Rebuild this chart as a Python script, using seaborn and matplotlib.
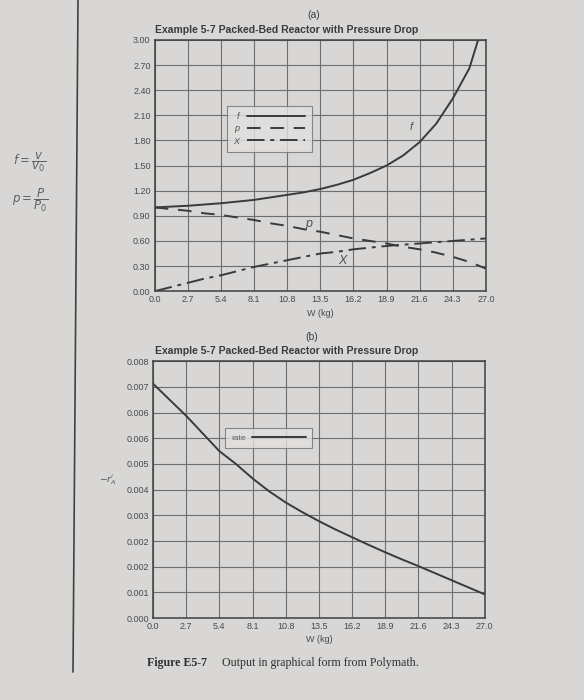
import numpy as np
import pandas as pd
import matplotlib
matplotlib.use("Agg")
import matplotlib.pyplot as plt
from matplotlib.lines import Line2D
import seaborn as sns

# data
W = [0.0, 1.35, 2.7, 4.05, 5.4, 6.75, 8.1, 9.45, 10.8, 12.15, 13.5,
     14.85, 16.2, 17.55, 18.9, 20.25, 21.6, 22.95, 24.3, 25.65, 27.0]
f_vals = [1.00, 1.01, 1.02, 1.035, 1.05, 1.07, 1.09, 1.12, 1.15, 1.18, 1.22,
          1.27, 1.33, 1.41, 1.50, 1.62, 1.78, 2.00, 2.30, 2.66, 3.30]
p_vals = [1.00, 0.98, 0.96, 0.93, 0.91, 0.88, 0.85, 0.81, 0.78, 0.74, 0.71,
          0.67, 0.63, 0.60, 0.57, 0.53, 0.50, 0.46, 0.41, 0.35, 0.27]
X_vals = [0.00, 0.05, 0.10, 0.15, 0.19, 0.24, 0.29, 0.33, 0.37, 0.41, 0.45,
          0.47, 0.50, 0.52, 0.54, 0.555, 0.57, 0.585, 0.60, 0.615, 0.63]
rate_vals = [0.0073, 0.0068, 0.0063, 0.00575, 0.0052, 0.0048, 0.00435, 0.00395,
             0.0036, 0.0033, 0.00302, 0.00276, 0.00252, 0.00228, 0.00205,
             0.00183, 0.00162, 0.0014, 0.00118, 0.00096, 0.00074]

x_ticks = [0.0, 2.7, 5.4, 8.1, 10.8, 13.5, 16.2, 18.9, 21.6, 24.3, 27.0]
ya_ticks = [0.0, 0.3, 0.6, 0.9, 1.2, 1.5, 1.8, 2.1, 2.4, 2.7, 3.0]
yb_ticks = [0.0, 0.0008, 0.0016, 0.0024, 0.0032, 0.0040, 0.0048, 0.0056, 0.0064, 0.0072, 0.0080]

title = "Example 5-7 Packed-Bed Reactor with Pressure Drop"

df = pd.DataFrame({"W": W, "f": f_vals, "p": p_vals, "X": X_vals, "rate": rate_vals})

sns.set_theme(style="white")
plt.rcParams["font.family"] = ["Liberation Sans", "DejaVu Sans"]

paper = "#d8d7d5"
ink = "#3a3a3a"
gridc = "#6e6e6e"
tickc = "#4a4a4a"

fig = plt.figure(figsize=(5.84, 7.0), dpi=100, facecolor=paper)
ax1 = fig.add_axes([0.265, 0.584, 0.567, 0.359])
ax2 = fig.add_axes([0.262, 0.117, 0.568, 0.367])

for ax in (ax1, ax2):
    ax.set_facecolor(paper)
    for s in ax.spines.values():
        s.set_color("#404040")
        s.set_linewidth(1.1)
    ax.grid(True, color=gridc, linewidth=0.8)
    ax.tick_params(length=0, labelsize=6.5, labelcolor=tickc)
    ax.tick_params(axis="x", pad=3)
    ax.tick_params(axis="y", pad=3)
    ax.set_xlim(0, 27)
    ax.set_xticks(x_ticks)
    ax.set_xticklabels([f"{t:.1f}" for t in x_ticks])

# (a)
sns.lineplot(data=df, x="W", y="f", ax=ax1, color=ink, lw=1.4, label="f")
sns.lineplot(data=df, x="W", y="p", ax=ax1, color=ink, lw=1.4, label="p",
             linestyle=(0, (7, 5)))
sns.lineplot(data=df, x="W", y="X", ax=ax1, color=ink, lw=1.4, label="X",
             linestyle=(0, (9, 3, 2, 3)))
ax1.set_ylim(0, 3.0)
ax1.set_yticks(ya_ticks)
ax1.set_yticklabels([f"{t:.2f}" for t in ya_ticks])
ax1.set_xlabel("W (kg)", fontsize=6.5, color=tickc, labelpad=3)
ax1.set_ylabel("")
leg1 = ax1.legend(loc="upper left", bbox_to_anchor=(0.205, 0.755), markerfirst=False,
                  handlelength=6.5, prop={"style": "italic", "size": 6.5},
                  frameon=True, fancybox=False, facecolor="#e2e1df", edgecolor="#707070",
                  borderpad=0.7, labelspacing=0.35, handletextpad=0.8)
leg1.get_frame().set_linewidth(0.8)
for t in leg1.get_texts():
    t.set_color("#505050")
ax1.text(20.8, 1.92, "f", fontsize=8, style="italic", color="#505050")
ax1.text(12.3, 0.77, "p", fontsize=9, style="italic", color="#505050")
ax1.text(15.0, 0.33, "X", fontsize=9, style="italic", color="#505050")

# (b)
sns.lineplot(data=df, x="W", y="rate", ax=ax2, color=ink, lw=1.4, label="rate")
ax2.set_ylim(0, 0.008)
ax2.set_yticks(yb_ticks)
ax2.set_yticklabels([f"{t:.3f}" for t in yb_ticks])
ax2.set_xlabel("W (kg)", fontsize=6.5, color=tickc, labelpad=3)
ax2.set_ylabel("")
leg2 = ax2.legend(loc="upper left", bbox_to_anchor=(0.205, 0.755), markerfirst=False,
                  handlelength=6.5, fontsize=6, frameon=True, fancybox=False,
                  facecolor="#e2e1df", edgecolor="#707070", borderpad=0.7,
                  handletextpad=0.8)
leg2.get_frame().set_linewidth(0.8)
for t in leg2.get_texts():
    t.set_color("#606060")

# titles
fig.text(314 / 584, 1 - 15 / 700, "(a)", ha="center", va="center", fontsize=7.5, color="#404040")
fig.text(155 / 584, 1 - 30 / 700, title, ha="left", va="center", fontsize=7.5,
         fontweight="bold", color="#3a3a3a")
fig.text(312 / 584, 1 - 337 / 700, "(b)", ha="center", va="center", fontsize=7.5, color="#404040")
fig.text(155 / 584, 1 - 351 / 700, title, ha="left", va="center", fontsize=7.5,
         fontweight="bold", color="#3a3a3a")

# side notes
fig.text(30 / 584, 1 - 162 / 700, r"$f = \dfrac{v}{v_0}$", ha="center", va="center",
         fontsize=8.5, color="#606060")
fig.text(30 / 584, 1 - 200 / 700, r"$p = \dfrac{P}{P_0}$", ha="center", va="center",
         fontsize=8.5, color="#606060")
fig.text(108 / 584, 1 - 480 / 700, r"$-r_A'$", ha="center", va="center",
         fontsize=6.5, color="#505050")

# caption
fig.text(147 / 584, 1 - 663 / 700, "Figure E5-7", ha="left", va="center", fontsize=8.6,
         fontweight="bold", family="Liberation Serif", color="#303030")
fig.text(222 / 584, 1 - 663 / 700, "Output in graphical form from Polymath.", ha="left",
         va="center", fontsize=8.6, family="Liberation Serif", color="#303030")

# page margin rule
fig.add_artist(Line2D([78 / 584, 73 / 584], [1.0, 1 - 672 / 700], color="#404040", lw=1.2,
                      transform=fig.transFigure))

fig.savefig("out.png", dpi=100, facecolor=paper)
